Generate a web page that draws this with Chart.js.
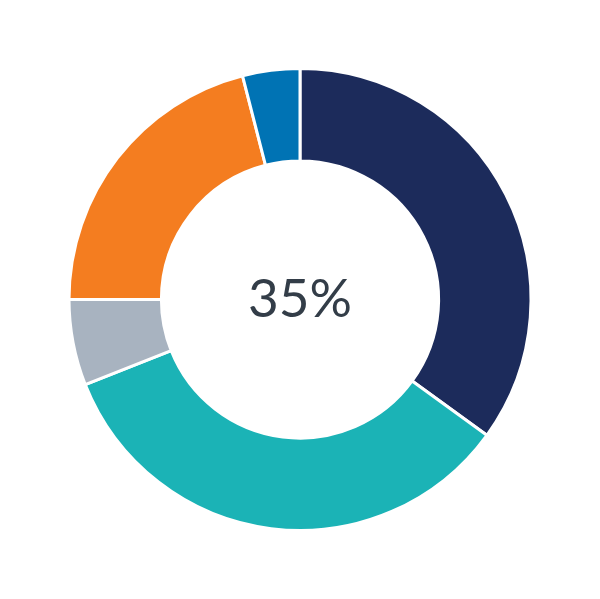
<!DOCTYPE html>
<html><head><meta charset="utf-8">
<script src="https://cdn.jsdelivr.net/npm/chart.js@4"></script>
<style>html,body{margin:0;padding:0;background:#fff;}#wrap{position:relative;width:600px;height:599px;}</style>
</head><body>
<div id="wrap"><canvas id="c" width="600" height="599"></canvas></div>
<script>
const labels = ["Navy", "Teal", "Gray", "Orange", "Blue"];
const values = [35, 34, 6, 21, 4];
const colors = ["#1c2b5b", "#1bb3b6", "#a8b3c0", "#f47d20", "#0073b4"];
const centerText = "35%";

const centerPlugin = {
  id: 'centerText',
  afterDraw(chart) {
    const meta = chart.getDatasetMeta(0);
    const arc = meta.data[0];
    const ctx = chart.ctx;
    ctx.save();
    ctx.font = '400 53px Lato';
    ctx.fillStyle = '#333d48';
    ctx.textAlign = 'center';
    ctx.textBaseline = 'middle';
    ctx.fillText(centerText, arc.x, arc.y);
    ctx.restore();
  }
};

new Chart(document.getElementById('c'), {
  type: 'doughnut',
  data: { labels: labels, datasets: [{ data: values, backgroundColor: colors, borderColor: '#ffffff', borderWidth: 3 }] },
  options: {
    responsive: false,
    animation: false,
    cutout: '60%',
    layout: { padding: { top: 67, bottom: 67, left: 67, right: 67 } },
    plugins: { legend: { display: false }, tooltip: { enabled: false } }
  },
  plugins: [centerPlugin]
});
</script>
</body></html>
